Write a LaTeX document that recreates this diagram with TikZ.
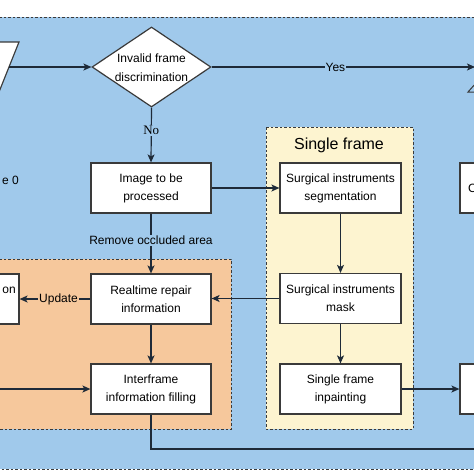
\documentclass[tikz,border=0pt]{standalone}
\usepackage{fontspec}
\setmainfont{Liberation Sans}
\newfontfamily\serifno{Liberation Serif}
\usetikzlibrary{arrows.meta,shapes.geometric}
\definecolor{bgblue}{HTML}{A0C9EB}
\definecolor{orangearea}{HTML}{F6C89C}
\definecolor{yellowarea}{HTML}{FDF4D0}
\definecolor{linec}{HTML}{1E2A38}
\definecolor{borderc}{HTML}{3A3A3A}
\begin{document}
\begin{tikzpicture}[x=1pt,y=-1pt,
 box/.style={draw=borderc,fill=white,line width=1.2pt,minimum width=120pt,minimum height=50pt,inner sep=0pt,align=center,font=\fontsize{12}{18}\selectfont},
 conn/.style={draw=linec,line width=1.2pt},
 arr/.style={conn,-{Stealth[length=8pt,width=7pt,inset=2pt]}},
 lbl/.style={fill=bgblue,inner sep=1pt,font=\fontsize{12}{14}\selectfont},
 txt/.style={inner sep=0pt,font=\fontsize{12}{18}\selectfont},
 area/.style={draw=borderc,line width=0.9pt,dash pattern=on 2.5pt off 2pt}]
\useasboundingbox (0,0) rectangle (474,474);
\clip (0,0) rectangle (474,474);
\fill[white] (0,0) rectangle (474,474);
% areas
\draw[area,fill=bgblue] (-5,17) rectangle (480,469);
\draw[area,fill=orangearea] (-5,259) rectangle (231,429);
\draw[area,fill=yellowarea] (266,127) rectangle (413,429);
\node[inner sep=0pt,font=\fontsize{16}{18}\selectfont] (sftitle) at (339,145) {Single frame};
% left parallelogram (cut off)
\filldraw[fill=white,draw=borderc,line width=1.2pt] (-40,42) -- (19,42) -- (-1,92) -- (-60,92) -- cycle;
\coordinate (par) at (9,67);
% diamond
\node[diamond,draw=borderc,fill=white,line width=1.2pt,minimum width=119pt,minimum height=80pt,inner sep=0pt] (dia) at (151.5,67) {};
\node[txt,align=center,font=\fontsize{12}{19}\selectfont] (diatext) at (151.5,67.5) {Invalid frame\\discrimination};
% boxes
\node[box] (img) at (151,188) {Image to be\\processed};
\node[box] (rt) at (151,299) {Realtime repair\\information};
\node[box] (inf) at (151,389) {Interframe\\information filling};
\node[box,minimum width=121pt] (seg) at (340.5,188) {Surgical instruments\\segmentation};
\node[box,minimum width=121pt] (mask) at (340.5,298.5) {Surgical instruments\\mask};
\node[box,minimum width=121pt] (inp) at (340.5,389) {Single frame\\inpainting};
\node[box] (rb1) at (520,188) {};
\node[txt,anchor=west] (rb1text) at (468,188) {C};
\node[box] (rb2) at (520,389) {};
\node[box] (lb) at (-41,299) {};
\node[txt,anchor=east] (lbtext) at (16,290) {on};
\node[txt,anchor=east] (frametext) at (19,180) {e 0};
% small cut-off shape at right
\draw[borderc,line width=1pt] (476,83) -- (468,92) -- (476,92);
% free ends
\coordinate (yesend) at (475,67);
\coordinate (inleft) at (-5,389);
\coordinate (outright) at (480,449);
% connectors
\draw[arr] (par) -- (dia.west);
\draw[arr] (dia.east) -- node[lbl,pos=0.47]{Yes} (yesend);
\draw[arr] (dia.south) -- node[lbl,pos=0.42,font=\serifno\fontsize{13}{14}\selectfont]{No} (img.north);
\draw[arr] (img.east) -- (seg.west);
\draw[arr] (img.south) -- node[lbl,pos=0.45]{Remove occluded area} (rt.north);
\draw[arr] (seg.south) -- (mask.north);
\draw[arr] (mask.south) -- (inp.north);
\draw[arr] (mask.west) -- (mask.west -| rt.east);
\draw[arr] (rt.west) -- node[lbl,fill=orangearea,pos=0.45]{Update} (lb.east);
\draw[arr] (rt.south) -- (inf.north);
\draw[arr] (inleft) -- (inf.west);
\draw[conn] (inf.south) |- (outright);
\draw[arr] (inp.east) -- (rb2.west);
\end{tikzpicture}
\end{document}
